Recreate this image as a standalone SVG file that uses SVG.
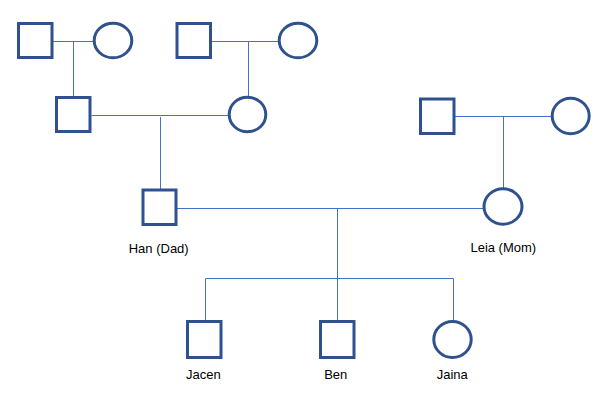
<svg xmlns="http://www.w3.org/2000/svg" width="609" height="418" viewBox="0 0 609 418">
<style>
.sq{fill:#fff;stroke:#2F528F;stroke-width:3}
.ci{fill:#fff;stroke:#2F528F;stroke-width:3}
.ln{fill:none;stroke:#4472C4;stroke-width:1}
.lb{font-family:"Liberation Sans",Arial,sans-serif;font-size:13px;fill:#000;text-anchor:middle}
</style>
<rect width="609" height="418" fill="#fff"/>
<g id="connectors">
<path class="ln" d="M53 41.5H93M73.5 41.5V96"/>
<path class="ln" d="M211.5 41.5H278M248.5 41.5V96"/>
<path class="ln" d="M91.5 115.5H229M160.5 117V189"/>
<path class="ln" d="M455 116.5H551M503.5 116V188"/>
<path class="ln" d="M177 208.5H483M337.5 208V321"/>
<path class="ln" d="M205.5 278.5H453.5M205.5 278.5V321M453.5 278.5V321"/>
</g>
<g id="gf-paternal"><rect class="sq" x="18.5" y="23.5" width="33.5" height="34"/></g>
<g id="gm-paternal"><ellipse class="ci" cx="113" cy="40.5" rx="18.8" ry="17.3"/></g>
<g id="gf-paternal2"><rect class="sq" x="177" y="23.5" width="33.5" height="34"/></g>
<g id="gm-paternal2"><ellipse class="ci" cx="298" cy="40.5" rx="18.8" ry="17.3"/></g>
<g id="han-father"><rect class="sq" x="56.5" y="97.5" width="33.5" height="34"/></g>
<g id="han-mother"><ellipse class="ci" cx="247.5" cy="114.5" rx="18.3" ry="17.3"/></g>
<g id="leia-father"><rect class="sq" x="420.5" y="99" width="33.5" height="34.5"/></g>
<g id="leia-mother"><ellipse class="ci" cx="570.7" cy="116" rx="18.5" ry="17.7"/></g>
<g id="han"><rect class="sq" x="143" y="190" width="33" height="34.5"/><text class="lb" x="158.7" y="252.5">Han (Dad)</text></g>
<g id="leia"><ellipse class="ci" cx="503" cy="206.5" rx="19" ry="17.7"/><text class="lb" x="503.3" y="251.5">Leia (Mom)</text></g>
<g id="jacen"><rect class="sq" x="187.5" y="321.5" width="33.5" height="36"/><text class="lb" x="203.3" y="379">Jacen</text></g>
<g id="ben"><rect class="sq" x="320.5" y="321.5" width="33.5" height="36"/><text class="lb" x="335.7" y="379">Ben</text></g>
<g id="jaina"><ellipse class="ci" cx="452.5" cy="339.5" rx="18.7" ry="18"/><text class="lb" x="452.3" y="379">Jaina</text></g>
</svg>
